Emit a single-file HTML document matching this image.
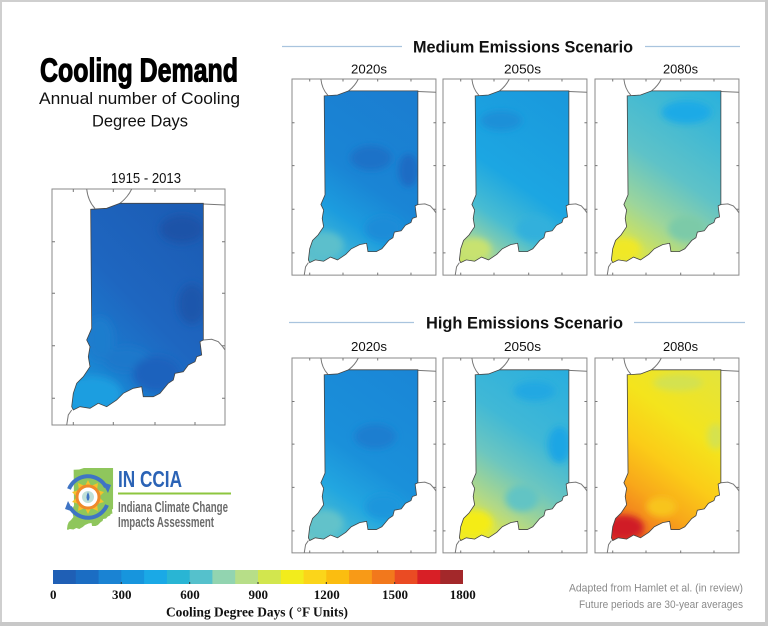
<!DOCTYPE html>
<html><head><meta charset="utf-8"><style>
html,body{margin:0;padding:0;background:#fff;}
svg{display:block;}
</style></head><body>
<svg width="768" height="626" viewBox="0 0 768 626" xmlns="http://www.w3.org/2000/svg">
<defs>
<clipPath id="st"><path d="M38.7,20.3 L54.7,19.3 L68,14.3 L151.3,14.3 L151.3,151 L148,152.7 L149.7,166 L144.7,167.7 L143,172.7 L136.3,176 L131.3,182.7 L123,184.3 L121.3,191 L116.3,194.3 L108,204.3 L101.3,207.7 L91.3,207.7 L89.7,197.7 L81.3,199.3 L71.3,204.3 L64.7,211 L54.7,217.7 L46.3,214.3 L38,219.3 L28,217.7 L21.3,221 L19.7,217.7 L21.3,204.3 L24.7,194.3 L31.3,187.7 L38,177.7 L36.3,167.7 L38,157.7 L34.7,151 L39.7,139.3 Z"/></clipPath>
<filter id="bl" x="-50%" y="-50%" width="200%" height="200%"><feGaussianBlur stdDeviation="4"/></filter>
<linearGradient id="gH" x1="0.8" y1="0.15" x2="0.2" y2="0.95">
<stop offset="0" stop-color="#1c5db5"/><stop offset="0.45" stop-color="#1e66c0"/><stop offset="0.68" stop-color="#1c76cb"/><stop offset="1" stop-color="#1a98dc"/></linearGradient>
<linearGradient id="gM1" x1="0.7" y1="0" x2="0.2" y2="1">
<stop offset="0" stop-color="#1b7dd0"/><stop offset="0.5" stop-color="#1a85d5"/><stop offset="0.7" stop-color="#1c9cde"/><stop offset="0.86" stop-color="#3fb5d6"/><stop offset="1" stop-color="#6ac4c6"/></linearGradient>
<linearGradient id="gM2" x1="0.7" y1="0" x2="0.2" y2="1">
<stop offset="0" stop-color="#1a98dc"/><stop offset="0.5" stop-color="#1ca6e2"/><stop offset="0.7" stop-color="#48bcd2"/><stop offset="0.86" stop-color="#9cd4a0"/><stop offset="1" stop-color="#d6e650"/></linearGradient>
<linearGradient id="gM3" x1="0.7" y1="0" x2="0.2" y2="1">
<stop offset="0" stop-color="#2cb2dc"/><stop offset="0.45" stop-color="#5ec2c8"/><stop offset="0.68" stop-color="#9cd59c"/><stop offset="0.84" stop-color="#cfe25c"/><stop offset="1" stop-color="#f2e826"/></linearGradient>
<linearGradient id="gH1" x1="0.7" y1="0" x2="0.2" y2="1">
<stop offset="0" stop-color="#1a86d6"/><stop offset="0.5" stop-color="#1a90da"/><stop offset="0.7" stop-color="#22a6e0"/><stop offset="0.88" stop-color="#4cbcd0"/><stop offset="1" stop-color="#74c8c2"/></linearGradient>
<linearGradient id="gH2" x1="0.7" y1="0" x2="0.2" y2="1">
<stop offset="0" stop-color="#2aaede"/><stop offset="0.35" stop-color="#40b8d6"/><stop offset="0.55" stop-color="#6cc6c0"/><stop offset="0.74" stop-color="#b0d888"/><stop offset="0.88" stop-color="#e2e744"/><stop offset="1" stop-color="#f6ec18"/></linearGradient>
<linearGradient id="gH3" x1="0.7" y1="0" x2="0.15" y2="1">
<stop offset="0" stop-color="#e4e43a"/><stop offset="0.3" stop-color="#f4e41c"/><stop offset="0.5" stop-color="#fbcc18"/><stop offset="0.68" stop-color="#f8a81a"/><stop offset="0.82" stop-color="#f2801e"/><stop offset="0.92" stop-color="#e24a22"/><stop offset="1" stop-color="#d21f26"/></linearGradient>
<g id="frame">
<rect x="0" y="0" width="173" height="236" fill="none" stroke="#8a8a8a" stroke-width="1" vector-effect="non-scaling-stroke"/>
<path d="M21.3,0 v3 M61.3,0 v3 M103,0 v3 M143,0 v3 M21.3,236 v-3 M61.3,236 v-3 M103,236 v-3 M143,236 v-3 M0,52.7 h3 M0,104.3 h3 M0,156.7 h3 M0,209.3 h3 M173,52.7 h-3 M173,104.3 h-3 M173,156.7 h-3 M173,209.3 h-3" stroke="#777" stroke-width="1" vector-effect="non-scaling-stroke"/>
<path d="M34.7,0 Q36,12 43,19.5 M79.7,0 Q76,8 68,14.3 M151.3,15 L173,16 M151.3,151 L159.7,150.3 L166.3,152.7 L170.7,157.7 L173,161 M19.7,221 L16.3,226 L14.7,236" fill="none" stroke="#777" stroke-width="1" vector-effect="non-scaling-stroke"/>
<path d="M38.7,20.3 L54.7,19.3 L68,14.3 L151.3,14.3 L151.3,151 L148,152.7 L149.7,166 L144.7,167.7 L143,172.7 L136.3,176 L131.3,182.7 L123,184.3 L121.3,191 L116.3,194.3 L108,204.3 L101.3,207.7 L91.3,207.7 L89.7,197.7 L81.3,199.3 L71.3,204.3 L64.7,211 L54.7,217.7 L46.3,214.3 L38,219.3 L28,217.7 L21.3,221 L19.7,217.7 L21.3,204.3 L24.7,194.3 L31.3,187.7 L38,177.7 L36.3,167.7 L38,157.7 L34.7,151 L39.7,139.3 Z" fill="none" stroke="#444" stroke-width="0.8" vector-effect="non-scaling-stroke"/>
</g>
</defs>

<!-- border -->
<rect x="1" y="1" width="765" height="622" fill="none" stroke="#cfcfcf" stroke-width="2"/>
<rect x="0" y="622" width="768" height="4" fill="#c8c8c8"/>
<rect x="765" y="0" width="3" height="626" fill="#cacaca"/>

<!-- title block -->
<text x="40" y="81.5" font-family="'Liberation Sans Narrow','Liberation Sans',sans-serif" font-weight="bold" font-size="33" fill="#000" stroke="#000" stroke-width="1.1" textLength="198" lengthAdjust="spacingAndGlyphs">Cooling Demand</text>
<text x="39" y="104" font-family="'Liberation Sans',sans-serif" font-size="17" fill="#111" textLength="201" lengthAdjust="spacingAndGlyphs">Annual number of Cooling</text>
<text x="92" y="126.5" font-family="'Liberation Sans',sans-serif" font-size="17" fill="#111" textLength="96" lengthAdjust="spacingAndGlyphs">Degree Days</text>
<text x="111" y="183" font-family="'Liberation Sans',sans-serif" font-size="14.5" fill="#111" textLength="70" lengthAdjust="spacingAndGlyphs">1915 - 2013</text>

<!-- scenario headers -->
<line x1="282" y1="46.5" x2="402" y2="46.5" stroke="#a9c4de" stroke-width="1.2"/>
<line x1="645" y1="46.5" x2="740" y2="46.5" stroke="#a9c4de" stroke-width="1.2"/>
<text x="413" y="52.7" font-family="'Liberation Sans',sans-serif" font-weight="bold" font-size="16.5" fill="#111" textLength="220" lengthAdjust="spacingAndGlyphs">Medium Emissions Scenario</text>
<line x1="289" y1="322.5" x2="414" y2="322.5" stroke="#a9c4de" stroke-width="1.2"/>
<line x1="634" y1="322.5" x2="745" y2="322.5" stroke="#a9c4de" stroke-width="1.2"/>
<text x="426" y="328.5" font-family="'Liberation Sans',sans-serif" font-weight="bold" font-size="16.5" fill="#111" textLength="197" lengthAdjust="spacingAndGlyphs">High Emissions Scenario</text>

<g font-family="'Liberation Sans',sans-serif" font-size="13" fill="#111">
<text x="351" y="73.3" textLength="36" lengthAdjust="spacingAndGlyphs">2020s</text>
<text x="504" y="73.3" textLength="37" lengthAdjust="spacingAndGlyphs">2050s</text>
<text x="663" y="73.3" textLength="35" lengthAdjust="spacingAndGlyphs">2080s</text>
<text x="351" y="351" textLength="36" lengthAdjust="spacingAndGlyphs">2020s</text>
<text x="504" y="351" textLength="37" lengthAdjust="spacingAndGlyphs">2050s</text>
<text x="663" y="351" textLength="35" lengthAdjust="spacingAndGlyphs">2080s</text>
</g>

<!-- historical map -->
<g transform="translate(52,189)">
<g clip-path="url(#st)">
<rect width="173" height="236" fill="url(#gH)"/>
<g filter="url(#bl)">
<ellipse cx="130" cy="40" rx="22" ry="14" fill="#1a52a8"/>
<ellipse cx="140" cy="115" rx="14" ry="20" fill="#1a56ac"/>
<ellipse cx="48" cy="150" rx="14" ry="22" fill="#1a7dcd"/>
<ellipse cx="75" cy="170" rx="22" ry="12" fill="#1a78cb"/>
<ellipse cx="40" cy="205" rx="30" ry="18" fill="#1a9ee0"/>
<ellipse cx="105" cy="185" rx="24" ry="18" fill="#1d62bd"/>
</g>
</g>
<use href="#frame"/>
</g>

<!-- medium row -->
<g transform="translate(292,79) scale(0.832,0.831)">
<g clip-path="url(#st)">
<rect width="173" height="236" fill="url(#gM1)"/>
<g filter="url(#bl)">
<ellipse cx="95" cy="95" rx="25" ry="15" fill="#1a72c8"/>
<ellipse cx="140" cy="110" rx="12" ry="20" fill="#1a6cc4"/>
<ellipse cx="110" cy="180" rx="22" ry="15" fill="#1a8cd8"/>
<ellipse cx="40" cy="200" rx="22" ry="16" fill="#5cbfcc"/>
</g>
</g>
<use href="#frame"/>
</g>
<g transform="translate(443,79) scale(0.832,0.831)">
<g clip-path="url(#st)">
<rect width="173" height="236" fill="url(#gM2)"/>
<g filter="url(#bl)">
<ellipse cx="70" cy="50" rx="25" ry="12" fill="#1a90d8"/>
<ellipse cx="110" cy="180" rx="22" ry="15" fill="#30b0dc"/>
<ellipse cx="38" cy="205" rx="20" ry="14" fill="#c8e270"/>
</g>
</g>
<use href="#frame"/>
</g>
<g transform="translate(595,79) scale(0.832,0.831)">
<g clip-path="url(#st)">
<rect width="173" height="236" fill="url(#gM3)"/>
<g filter="url(#bl)">
<ellipse cx="110" cy="40" rx="30" ry="14" fill="#1aaae6"/>
<ellipse cx="110" cy="180" rx="22" ry="15" fill="#7ccaa8"/>
<ellipse cx="35" cy="205" rx="20" ry="14" fill="#f0e826"/>
</g>
</g>
<use href="#frame"/>
</g>

<!-- high row -->
<g transform="translate(292,358) scale(0.832,0.826)">
<g clip-path="url(#st)">
<rect width="173" height="236" fill="url(#gH1)"/>
<g filter="url(#bl)">
<ellipse cx="100" cy="95" rx="25" ry="15" fill="#1a7ed0"/>
<ellipse cx="110" cy="180" rx="22" ry="15" fill="#1a96dc"/>
<ellipse cx="40" cy="200" rx="22" ry="16" fill="#62c2ca"/>
</g>
</g>
<use href="#frame"/>
</g>
<g transform="translate(443,358) scale(0.832,0.826)">
<g clip-path="url(#st)">
<rect width="173" height="236" fill="url(#gH2)"/>
<g filter="url(#bl)">
<ellipse cx="140" cy="105" rx="14" ry="22" fill="#1aa6e4"/>
<ellipse cx="110" cy="40" rx="25" ry="12" fill="#20a8e2"/>
<ellipse cx="95" cy="170" rx="20" ry="16" fill="#62c4c4"/>
<ellipse cx="38" cy="200" rx="22" ry="16" fill="#f4ec18"/>
</g>
</g>
<use href="#frame"/>
</g>
<g transform="translate(595,358) scale(0.832,0.826)">
<g clip-path="url(#st)">
<rect width="173" height="236" fill="url(#gH3)"/>
<g filter="url(#bl)">
<ellipse cx="100" cy="30" rx="30" ry="10" fill="#d4e250"/>
<ellipse cx="145" cy="95" rx="10" ry="16" fill="#d6e24e"/>
<ellipse cx="80" cy="180" rx="18" ry="12" fill="#f8c41a"/>
<ellipse cx="35" cy="205" rx="24" ry="15" fill="#d01c26"/>
</g>
</g>
<use href="#frame"/>
</g>

<!-- logo -->
<g transform="translate(60.1,463.7) scale(0.35,0.30)">
<path d="M38.7,20.3 L54.7,19.3 L68,14.3 L151.3,14.3 L151.3,151 L148,152.7 L149.7,166 L144.7,167.7 L143,172.7 L136.3,176 L131.3,182.7 L123,184.3 L121.3,191 L116.3,194.3 L108,204.3 L101.3,207.7 L91.3,207.7 L89.7,197.7 L81.3,199.3 L71.3,204.3 L64.7,211 L54.7,217.7 L46.3,214.3 L38,219.3 L28,217.7 L21.3,221 L19.7,217.7 L21.3,204.3 L24.7,194.3 L31.3,187.7 L38,177.7 L36.3,167.7 L38,157.7 L34.7,151 L39.7,139.3 Z" fill="#8fc65c"/>
</g>
<path d="M69,489 A20.5 20.5 0 0 1 106,487" fill="none" stroke="#3f74c4" stroke-width="4"/>
<path d="M107,505 A20.5 20.5 0 0 1 70,507" fill="none" stroke="#3f74c4" stroke-width="4"/>
<polygon points="102,482 111,485 108,493" fill="#3f74c4"/>
<polygon points="74,512 65,509 68,501" fill="#3f74c4"/>
<g transform="translate(88,497)">
<polygon points="0,-17 3,-11 10,-14 9,-7 16,-5 11,0 16,5 9,7 10,14 3,11 0,17 -3,11 -10,14 -9,7 -16,5 -11,0 -16,-5 -9,-7 -10,-14 -3,-11" fill="#f5c22a"/>
<circle r="11" fill="#fff" stroke="#ef8a2a" stroke-width="3"/>
<circle r="6" fill="#bfe0d8"/>
<path d="M0,-5 Q3,1 0,4 Q-3,1 0,-5Z" fill="#3f74c4"/>
</g>
<text x="118" y="487" font-family="'Liberation Sans Narrow','Liberation Sans',sans-serif" font-weight="bold" font-size="23" fill="#2b63b6" textLength="64" lengthAdjust="spacingAndGlyphs">IN CCIA</text>
<line x1="118" y1="493.5" x2="231" y2="493.5" stroke="#8dc63f" stroke-width="2"/>
<text x="118" y="512" font-family="'Liberation Sans Narrow','Liberation Sans',sans-serif" font-weight="bold" font-size="15" fill="#6b6b6b" textLength="110" lengthAdjust="spacingAndGlyphs">Indiana Climate Change</text>
<text x="118" y="527" font-family="'Liberation Sans Narrow','Liberation Sans',sans-serif" font-weight="bold" font-size="15" fill="#6b6b6b" textLength="96" lengthAdjust="spacingAndGlyphs">Impacts Assessment</text>

<!-- colorbar -->
<g>
<rect x="53.0" y="570" width="23.3" height="14" fill="#1f5fb5"/>
<rect x="75.8" y="570" width="23.3" height="14" fill="#1b6dc3"/>
<rect x="98.6" y="570" width="23.3" height="14" fill="#1a83d3"/>
<rect x="121.3" y="570" width="23.3" height="14" fill="#1795dd"/>
<rect x="144.1" y="570" width="23.3" height="14" fill="#1aa9e6"/>
<rect x="166.9" y="570" width="23.3" height="14" fill="#29b5d4"/>
<rect x="189.7" y="570" width="23.3" height="14" fill="#55c1cc"/>
<rect x="212.4" y="570" width="23.3" height="14" fill="#92d4b0"/>
<rect x="235.2" y="570" width="23.3" height="14" fill="#b7de88"/>
<rect x="258.0" y="570" width="23.3" height="14" fill="#d2e64e"/>
<rect x="280.8" y="570" width="23.3" height="14" fill="#f2ec1c"/>
<rect x="303.6" y="570" width="23.3" height="14" fill="#fbd51a"/>
<rect x="326.3" y="570" width="23.3" height="14" fill="#fbbd10"/>
<rect x="349.1" y="570" width="23.3" height="14" fill="#f89a17"/>
<rect x="371.9" y="570" width="23.3" height="14" fill="#f2781c"/>
<rect x="394.7" y="570" width="23.3" height="14" fill="#ea4b23"/>
<rect x="417.4" y="570" width="23.3" height="14" fill="#d81f26"/>
<rect x="440.2" y="570" width="22.8" height="14" fill="#a3282a"/>
<path d="M121.3,584 v-2 M189.7,584 v-2 M258,584 v-2 M326.3,584 v-2 M394.7,584 v-2" stroke="#333" stroke-width="1"/>
</g>
<g font-family="'Liberation Serif',serif" font-weight="bold" font-size="13" fill="#111" text-anchor="middle">
<text x="53.3" y="599">0</text>
<text x="121.7" y="599">300</text>
<text x="190" y="599">600</text>
<text x="258.3" y="599">900</text>
<text x="326.7" y="599">1200</text>
<text x="395" y="599">1500</text>
<text x="462.7" y="599">1800</text>
</g>
<text x="166" y="616.5" font-family="'Liberation Serif',serif" font-weight="bold" font-size="14" fill="#111" textLength="182" lengthAdjust="spacingAndGlyphs">Cooling Degree Days ( °F Units)</text>

<!-- source notes -->
<text x="569" y="591.5" font-family="'Liberation Sans',sans-serif" font-size="11" fill="#8a8a8a" textLength="174" lengthAdjust="spacingAndGlyphs">Adapted from Hamlet et al. (in review)</text>
<text x="579" y="608" font-family="'Liberation Sans',sans-serif" font-size="11" fill="#8a8a8a" textLength="164" lengthAdjust="spacingAndGlyphs">Future periods are 30-year averages</text>
</svg>
</body></html>
